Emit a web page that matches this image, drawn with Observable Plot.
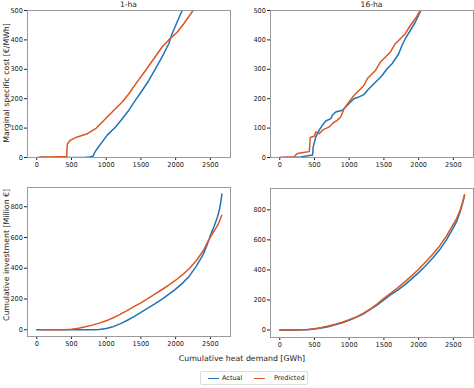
<!DOCTYPE html>
<html>
<head>
<meta charset="utf-8">
<script src="https://cdn.jsdelivr.net/npm/d3@7"></script>
<script src="https://cdn.jsdelivr.net/npm/@observablehq/plot@0.6"></script>
<style>
  html, body { margin: 0; padding: 0; background: #fff; }
  #wrap { position: relative; width: 474px; height: 388px; overflow: hidden; font-family: "DejaVu Sans", sans-serif; color: #222; }
  .panel { position: absolute; }
  .lbl { position: absolute; font-size: 7.8px; white-space: nowrap; }
  .ttl { position: absolute; font-size: 7.6px; white-space: nowrap; transform: translateX(-50%); }
  .ylab { position: absolute; font-size: 7.8px; white-space: nowrap; transform: translate(-50%, -50%) rotate(-90deg); }
  #legend { position: absolute; left: 200px; top: 371px; width: 106px; height: 12px; border: 1px solid #ddd; border-radius: 2px; font-size: 6.5px; }
  .sw { position: absolute; top: 5.5px; height: 1.5px; width: 11px; }
  .lt { position: absolute; top: 1.5px; }
</style>
</head>
<body>
<div id="wrap"></div>
<script>
// ---- data ----
const actualColor = "#1f74b6";
const predColor = "#dc5522";

// 1-ha marginal specific cost
const ha1CostActualX = [0, 300, 680, 760, 800, 815, 824, 870, 943, 1015, 1135, 1231, 1327, 1422, 1518, 1614, 1710, 1805, 1901, 1949, 2011, 2093];
const ha1CostActualY = [0, 0, 0, 2, 4, 5, 12, 30, 53, 76, 104, 132, 161, 195, 228, 262, 302, 342, 387, 421, 455, 500];
const ha1CostPredX = [48, 200, 431, 436, 440, 480, 584, 728, 848, 920, 1015, 1111, 1231, 1327, 1446, 1566, 1686, 1805, 1901, 2021, 2117, 2251];
const ha1CostPredY = [2, 2, 3, 30, 45, 58, 70, 81, 98, 115, 138, 161, 189, 217, 257, 296, 336, 376, 400, 426, 455, 500];

// 16-ha marginal specific cost
const ha16CostActualX = [0, 150, 305, 448, 472, 477, 482, 520, 568, 615, 663, 735, 758, 806, 902, 949, 1021, 1069, 1140, 1212, 1260, 1331, 1403, 1474, 1546, 1617, 1665, 1713, 1760, 1808, 1880, 1951, 2032];
const ha16CostActualY = [0, 1, 2, 8, 8, 20, 36, 70, 93, 110, 124, 132, 144, 155, 161, 172, 189, 200, 206, 214, 228, 245, 262, 279, 302, 319, 336, 353, 381, 404, 432, 460, 500];
const ha16CostPredX = [0, 210, 234, 258, 340, 425, 432, 439, 496, 520, 568, 615, 711, 758, 830, 878, 926, 997, 1069, 1140, 1212, 1260, 1331, 1379, 1450, 1522, 1594, 1665, 1737, 1808, 1880, 1966, 2023];
const ha16CostPredY = [0, 2, 10, 14, 17, 20, 40, 68, 72, 87, 81, 93, 104, 115, 127, 138, 166, 189, 211, 228, 245, 268, 285, 296, 325, 342, 359, 387, 404, 421, 449, 477, 500];

// 1-ha cumulative investment
const ha1InvActualX = [0, 500, 800, 900, 1000, 1100, 1200, 1300, 1400, 1500, 1600, 1700, 1800, 1900, 2000, 2100, 2200, 2300, 2400, 2460, 2500, 2550, 2600, 2630, 2650, 2660, 2665];
const ha1InvActualY = [0, 0, 0, 1, 8, 20, 38, 60, 85, 113, 140, 168, 198, 230, 264, 303, 350, 415, 492, 560, 612, 668, 730, 780, 830, 860, 882];
const ha1InvPredX = [50, 400, 500, 600, 700, 800, 900, 1000, 1100, 1200, 1300, 1400, 1500, 1600, 1700, 1800, 1900, 2000, 2100, 2200, 2300, 2400, 2462, 2500, 2550, 2600, 2630, 2650, 2665];
const ha1InvPredY = [0, 0, 3, 10, 19, 30, 43, 58, 78, 100, 124, 150, 175, 202, 231, 260, 290, 322, 358, 400, 450, 515, 572, 603, 640, 675, 705, 728, 745];

// 16-ha cumulative investment
const ha16InvActualX = [0, 200, 400, 500, 600, 700, 800, 900, 1000, 1100, 1200, 1300, 1400, 1500, 1600, 1700, 1800, 1900, 2000, 2100, 2200, 2300, 2400, 2500, 2550, 2600, 2630, 2650, 2660];
const ha16InvActualY = [0, 0, 2, 7, 13, 22, 34, 48, 65, 84, 106, 135, 166, 200, 235, 265, 300, 340, 382, 428, 478, 532, 600, 680, 725, 790, 840, 875, 895];
const ha16InvPredX = [0, 200, 400, 500, 600, 700, 800, 900, 1000, 1100, 1200, 1300, 1400, 1500, 1600, 1700, 1800, 1900, 2000, 2100, 2200, 2300, 2400, 2500, 2550, 2600, 2630, 2650, 2660];
const ha16InvPredY = [0, 0, 3, 9, 16, 26, 38, 52, 68, 87, 110, 138, 172, 210, 245, 280, 320, 360, 404, 452, 503, 558, 625, 704, 745, 800, 845, 880, 900];

const xTicks = [0, 500, 1000, 1500, 2000, 2500];
const costTicks = [0, 100, 200, 300, 400, 500];
const invTicks = [0, 200, 400, 600, 800];
const panelTitles = ["1-ha", "16-ha"];

const toRows = (xs, ys) => xs.map((x, i) => ({x, y: ys[i]}));

function panel({left, top, width, height, mL, mR, mT, mB, yDomain, yTicks, actual, pred}) {
  const p = Plot.plot({
    width, height,
    marginLeft: mL, marginRight: mR, marginTop: mT, marginBottom: mB,
    style: {fontFamily: "DejaVu Sans, sans-serif", fontSize: "6.6px", color: "#222", background: "transparent", overflow: "visible"},
    x: {domain: [-133, 2790], ticks: xTicks, tickSize: 3, tickPadding: 1.5, label: null, tickFormat: d => String(d)},
    y: {domain: yDomain, ticks: yTicks, tickSize: 3, tickPadding: 1.5, label: null, tickFormat: d => String(d)},
    marks: [
      Plot.line(actual, {x: "x", y: "y", stroke: actualColor, strokeWidth: 1.5, clip: true}),
      Plot.line(pred, {x: "x", y: "y", stroke: predColor, strokeWidth: 1.5, clip: true}),
      Plot.frame({stroke: "#999", strokeWidth: 1})
    ]
  });
  p.classList.add("panel");
  p.style.left = left + "px";
  p.style.top = top + "px";
  p.style.position = "absolute";
  return p;
}

const wrap = document.getElementById("wrap");

wrap.appendChild(panel({left: 0, top: 0, width: 237, height: 180, mL: 27, mR: 7, mT: 10, mB: 23,
  yDomain: [0, 500], yTicks: costTicks,
  actual: toRows(ha1CostActualX, ha1CostActualY), pred: toRows(ha1CostPredX, ha1CostPredY)}));
wrap.appendChild(panel({left: 237, top: 0, width: 237, height: 180, mL: 33, mR: 1, mT: 10, mB: 23,
  yDomain: [0, 500], yTicks: costTicks,
  actual: toRows(ha16CostActualX, ha16CostActualY), pred: toRows(ha16CostPredX, ha16CostPredY)}));
wrap.appendChild(panel({left: 0, top: 180, width: 237, height: 175, mL: 27, mR: 7, mT: 7, mB: 19,
  yDomain: [-44, 925], yTicks: invTicks,
  actual: toRows(ha1InvActualX, ha1InvActualY), pred: toRows(ha1InvPredX, ha1InvPredY)}));
wrap.appendChild(panel({left: 237, top: 180, width: 237, height: 175, mL: 33, mR: 1, mT: 8, mB: 18,
  yDomain: [-50, 942], yTicks: invTicks,
  actual: toRows(ha16InvActualX, ha16InvActualY), pred: toRows(ha16InvPredX, ha16InvPredY)}));

function addDiv(cls, text, css) {
  const d = document.createElement("div");
  d.className = cls;
  d.textContent = text;
  Object.assign(d.style, css);
  wrap.appendChild(d);
  return d;
}

addDiv("ttl", panelTitles[0], {left: "128.5px", top: "0px"});
addDiv("ttl", panelTitles[1], {left: "371.5px", top: "0px"});
addDiv("ylab", "Marginal specific cost [€/MWh]", {left: "6px", top: "83px"});
addDiv("ylab", "Cumulative investment [Million €]", {left: "6px", top: "255px"});
addDiv("lbl", "Cumulative heat demand [GWh]", {left: "242px", top: "354px", transform: "translateX(-50%)"});

const leg = document.createElement("div");
leg.id = "legend";
leg.innerHTML = `<div class="sw" style="left:7px;background:${actualColor}"></div><div class="lt" style="left:21px">Actual</div>` +
  `<div class="sw" style="left:53px;background:${predColor}"></div><div class="lt" style="left:73px">Predicted</div>`;
wrap.appendChild(leg);
</script>
</body>
</html>
